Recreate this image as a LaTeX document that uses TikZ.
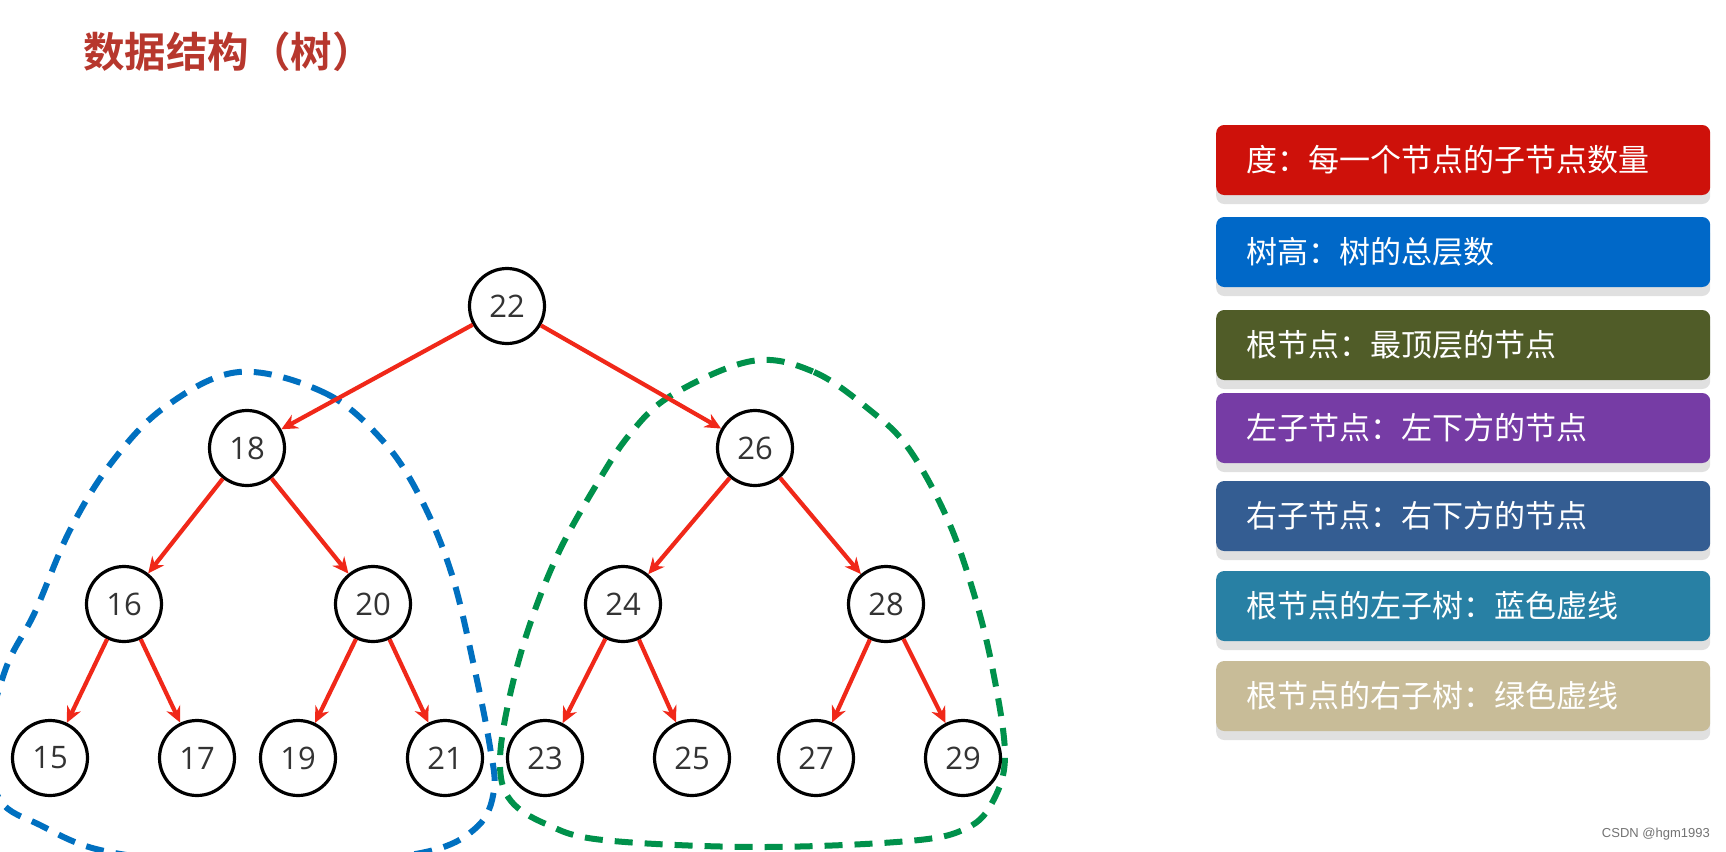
\documentclass[tikz,border=0pt]{standalone}
\usepackage{fontspec}
\setmainfont{Noto Sans CJK SC}
\newfontfamily\titlefont{Noto Sans CJK SC Bold}
\newfontfamily\numfont{Open Sans}
\newfontfamily\markfont{Liberation Sans}
\usetikzlibrary{arrows.meta,shadows}
\definecolor{titlered}{RGB}{183,55,45}
\definecolor{edgered}{RGB}{240,40,25}
\definecolor{loopblue}{RGB}{0,112,192}
\definecolor{loopgreen}{RGB}{0,145,75}
\definecolor{boxa}{RGB}{206,17,10}
\definecolor{boxb}{RGB}{0,104,200}
\definecolor{boxc}{RGB}{80,92,40}
\definecolor{boxd}{RGB}{118,60,165}
\definecolor{boxe}{RGB}{52,93,146}
\definecolor{boxf}{RGB}{40,128,164}
\definecolor{boxg}{RGB}{200,188,152}
\tikzset{
  tnode/.style={circle,draw=black,line width=3.2pt,fill=white,minimum size=75pt,inner sep=0pt,
    text=black!80,font=\numfont\fontsize{31}{31}\selectfont},
  tedge/.style={edgered,line width=4.2pt,-{Stealth[length=16pt,width=15pt]}},
  subtree/.style={line width=6pt,dash pattern=on 18pt off 12pt},
  infobox/.style={anchor=west,rounded corners=8pt,minimum height=70pt,text width=434pt,inner xsep=30pt,
    align=left,text=white,font=\fontsize{31}{32}\selectfont,
    drop shadow={shadow xshift=0pt,shadow yshift=-9pt,fill=black!12,opacity=1}}
}
\begin{document}
\begin{tikzpicture}[x=1pt,y=-1pt]
\path[use as bounding box,fill=white] (0,0) rectangle (1726,851);

\node[anchor=west,inner sep=0pt,text=titlered,font=\titlefont\fontsize{41.5}{42}\selectfont] (title) at (83,52) {数据结构（树）};

\begin{scope}
\clip (0,0) rectangle (1726,851);
\draw[subtree,loopblue] plot[smooth cycle,tension=0.6] coordinates {(239,372) (325,393) (383,441) (421,499) (452,575)
  (475,671) (490,747) (494,790) (478,826) (430,851) (330,862) (200,862) (100,850) (40,825) (0,800) (-12,742)
  (6,668) (35,612) (70,530) (112,462) (165,407)};
\draw[subtree,loopgreen] plot[smooth cycle,tension=0.6] coordinates {(752,361) (814,372) (871,411) (909,449) (947,518)
  (974,594) (993,671) (1005,755) (993,801) (967,828) (909,841) (756,847) (603,840) (546,824) (511,801) (500,767)
  (507,709) (527,633) (557,556) (595,487) (630,434) (672,395)};
\end{scope}

\node[tnode] (n22) at (507,306) {22};
\node[tnode] (n18) at (247,448) {18};
\node[tnode] (n26) at (755,448) {26};
\node[tnode] (n16) at (124,604) {16};
\node[tnode] (n20) at (373,604) {20};
\node[tnode] (n24) at (623,604) {24};
\node[tnode] (n28) at (886,604) {28};
\node[tnode] (n15) at (50,758) {15};
\node[tnode] (n17) at (197,758) {17};
\node[tnode] (n19) at (298,758) {19};
\node[tnode] (n21) at (445,758) {21};
\node[tnode] (n23) at (545,758) {23};
\node[tnode] (n25) at (692,758) {25};
\node[tnode] (n27) at (816,758) {27};
\node[tnode] (n29) at (963,758) {29};

\draw[tedge] (n22) -- (n18);
\draw[tedge] (n22) -- (n26);
\draw[tedge] (n18) -- (n16);
\draw[tedge] (n18) -- (n20);
\draw[tedge] (n26) -- (n24);
\draw[tedge] (n26) -- (n28);
\draw[tedge] (n16) -- (n15);
\draw[tedge] (n16) -- (n17);
\draw[tedge] (n20) -- (n19);
\draw[tedge] (n20) -- (n21);
\draw[tedge] (n24) -- (n23);
\draw[tedge] (n24) -- (n25);
\draw[tedge] (n28) -- (n27);
\draw[tedge] (n28) -- (n29);

\node[infobox,fill=boxa] (degree) at (1216,160) {度：每一个节点的子节点数量};
\node[infobox,fill=boxb] (height) at (1216,252) {树高：树的总层数};
\node[infobox,fill=boxc] (root) at (1216,345) {根节点：最顶层的节点};
\node[infobox,fill=boxd] (lchild) at (1216,428) {左子节点：左下方的节点};
\node[infobox,fill=boxe] (rchild) at (1216,516) {右子节点：右下方的节点};
\node[infobox,fill=boxf] (lsub) at (1216,606) {根节点的左子树：蓝色虚线};
\node[infobox,fill=boxg] (rsub) at (1216,696) {根节点的右子树：绿色虚线};

\node[anchor=east,inner sep=0pt,text=black!55,font=\markfont\fontsize{13}{13}\selectfont] (mark) at (1710,834) {CSDN @hgm1993};
\end{tikzpicture}
\end{document}
